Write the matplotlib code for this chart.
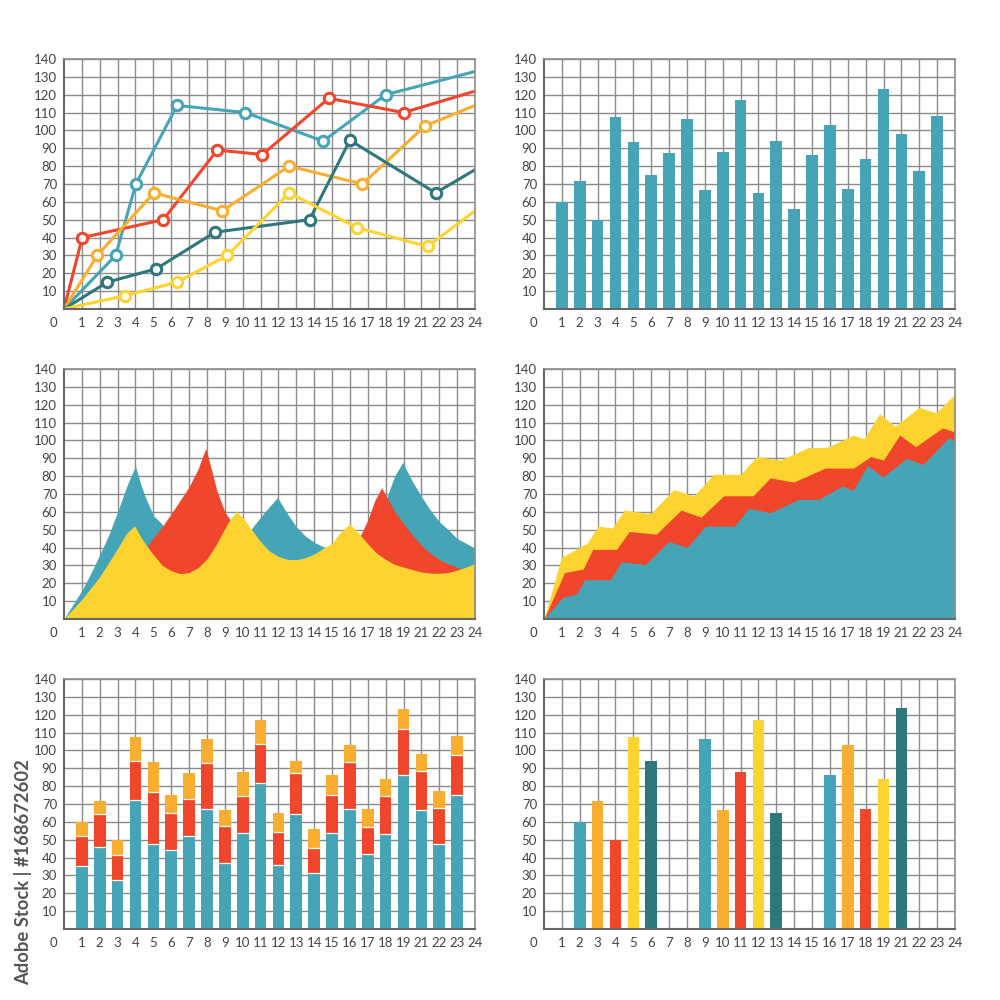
#!/usr/bin/env python3

import matplotlib
matplotlib.use('Agg')
import matplotlib.pyplot as plt

matplotlib.rcParams['font.family'] = 'Lato'
matplotlib.rcParams['font.size'] = 9.5

TEAL = '#45A5B6'
RED = '#F0462C'
ORANGE = '#F9AE30'
YELLOW = '#FDD42F'
DARK = '#2E777C'
GRID = '#8C8C8C'
TEXT = '#444444'

# x axis has 23 cells, the labels skip 20
x_labels = [1, 2, 3, 4, 5, 6, 7, 8, 9, 10, 11, 12, 13, 14, 15, 16, 17, 18, 19, 21, 22, 23, 24]
y_labels = [10, 20, 30, 40, 50, 60, 70, 80, 90, 100, 110, 120, 130, 140]

# line chart
teal_line_x = [0, 2.89, 4.02, 6.33, 10.15, 14.5, 18, 23]
teal_line_y = [0, 30, 70, 114, 110, 94, 120, 133]
red_line_x = [0, 1.02, 5.55, 8.58, 11.1, 14.82, 19, 23]
red_line_y = [0, 40, 50, 89, 86.5, 118, 110, 122]
orange_line_x = [0, 1.86, 5.03, 8.86, 12.6, 16.7, 20.2, 23]
orange_line_y = [0, 30, 65, 55, 80, 70, 102.5, 114]
dark_line_x = [0, 2.42, 5.16, 8.45, 13.74, 16.0, 20.8, 23]
dark_line_y = [0, 15, 22.5, 43, 50, 94.5, 65, 78]
yellow_line_x = [0, 3.43, 6.33, 9.14, 12.6, 16.42, 20.35, 23]
yellow_line_y = [0, 7.5, 15, 30, 65, 45.5, 35, 55]

# single bars
bar_pos = list(range(1, 23))
bar_vals = [60, 71.5, 50, 107.5, 93.5, 75, 87.5, 106.5, 66.5, 88, 117,
            65, 94, 56, 86, 103, 67, 84, 123, 98, 77.5, 108]

# peaks area chart
peak_teal_x = [0, 0.5, 1, 1.5, 2, 2.5, 3, 3.5, 3.75, 4, 4.25, 4.5, 5, 5.5, 6, 7, 8, 9, 10, 10.45, 11, 11.5, 11.95, 12.5, 13, 13.5, 14, 14.5, 14.8, 15, 16, 17, 17.5, 18.1, 18.5, 18.95, 19.5, 20, 20.5, 21, 21.5, 22, 22.5, 23]
peak_teal_y = [0, 8, 16, 25.5, 36, 47, 60, 74, 80, 85.6, 77, 69.5, 58, 53, 47, 37, 33, 38, 44, 50, 57, 63, 68, 59, 51.7, 46.5, 43, 40.5, 40, 39, 36, 40, 50, 69, 80, 87.7, 77, 68.6, 61, 54.5, 50, 45, 42.4, 39.6]
peak_red_x = [0, 2, 3, 4, 4.66, 5.56, 6, 7, 7.5, 7.93, 8.27, 8.55, 9, 9.33, 10, 11, 12, 13, 14, 15, 16, 16.6, 17, 17.4, 17.78, 18.1, 18.5, 19, 19.5, 20, 20.5, 21, 21.5, 22, 22.3, 23]
peak_red_y = [0, 18, 27, 33, 41, 52.6, 59, 74, 84, 95.5, 83, 72, 60, 55, 44, 34, 30, 30, 33, 38, 42, 47, 55.4, 66.6, 73.5, 67.6, 60.4, 53.5, 47, 41.4, 36.8, 33.4, 30.8, 29, 28, 25]
peak_yellow_x = [0, 1, 2, 3, 3.5, 3.95, 4.35, 4.66, 5, 5.5, 6, 6.5, 7, 7.5, 8, 8.5, 9, 9.3, 9.65, 10, 10.5, 11, 11.5, 12, 12.5, 13, 13.5, 14, 14.5, 15, 15.5, 16, 16.5, 17, 17.5, 18, 18.5, 19, 20, 20.5, 21, 21.5, 22, 22.5, 23]
peak_yellow_y = [0, 11, 23.7, 39.5, 48, 52.2, 45, 40.5, 36, 30, 27, 25.4, 26, 28.7, 33.6, 41.4, 50.7, 56, 60.4, 57, 50, 43.3, 38, 35, 33.4, 33.2, 34.3, 36.4, 39.5, 42.4, 49, 53.2, 48, 42, 36.8, 33.4, 30.6, 29, 26.3, 25.7, 25.6, 26, 27.4, 29, 31.2]

# stacked area chart
stack_teal_x = [0, 1.02, 1.82, 2.27, 3.72, 4.32, 5.68, 6.98, 8.0, 9.03, 10.65, 11.45, 12.66, 14.25, 15.36, 16.7, 17.3, 18.1, 18.96, 20.3, 21.2, 22.63, 23]
stack_teal_y = [0, 12, 14, 22, 22, 32, 30.5, 43.5, 40, 52, 52, 62, 59.5, 67, 67, 74.5, 72, 86, 79.5, 90, 86.5, 101.5, 99.5]
stack_red_x = [0, 1.15, 2.2, 2.72, 4.06, 4.77, 6.28, 7.67, 8.79, 10.06, 11.7, 12.66, 13.97, 15.74, 17.32, 18.29, 19, 19.9, 20.8, 22.3, 23]
stack_red_y = [0, 26, 28, 39, 39, 49, 47.5, 61, 57, 69, 69, 79, 76.7, 84.5, 84.5, 91, 89, 103, 96.5, 107, 104.7]
stack_yellow_x = [0, 0.97, 2.42, 3.02, 3.82, 4.5, 5.96, 7.26, 8.38, 9.5, 11, 11.9, 13.2, 14.8, 15.83, 17.3, 17.9, 18.77, 19.65, 21, 21.94, 23]
stack_yellow_y = [0, 34.5, 42.5, 52, 51, 61, 59, 72.5, 69, 81, 81, 91, 89, 96, 96, 103, 101, 115, 108, 118.5, 115.5, 126]

# stacked bars, tops of each segment
seg_teal = [35.5, 46, 27.5, 72.5, 47.5, 44, 52, 67, 37, 54, 82, 36, 64.5, 31.5, 53.5, 67, 42, 53, 86, 66.5, 47.5, 75]
seg_red = [52, 64.5, 41.5, 94, 77, 65, 73, 93, 57.5, 74.5, 103.5, 54.5, 87.5, 45.5, 75, 93.5, 57, 74.5, 112, 88.5, 68, 97.5]
seg_orange = bar_vals

# colored bars
color_pos = [2, 3, 4, 5, 6, 9, 10, 11, 12, 13, 16, 17, 18, 19, 20]
color_vals = [60, 71.5, 50, 107.5, 94, 106.5, 66.5, 88, 117, 65, 86, 103, 67, 84, 123.5]
color_list = [TEAL, ORANGE, RED, YELLOW, DARK] * 3


def make_axes(fig, left, top):
    # pixel box of every panel is 411 x 250 on the 1000 px canvas
    ax = fig.add_axes([left / 1000, 1 - (top + 250) / 1000, 411 / 1000, 250 / 1000])
    ax.set_xlim(0, 23)
    ax.set_ylim(0, 140)
    ax.set_xticks(range(1, 24))
    ax.set_xticklabels(x_labels)
    ax.set_yticks(y_labels)
    ax.grid(True, color=GRID, lw=1.0)
    ax.set_axisbelow(True)
    ax.tick_params(length=0, colors=TEXT, labelsize=9.5, pad=5)
    ax.tick_params(axis='x', pad=6)
    for s in ax.spines.values():
        s.set_color(GRID)
        s.set_linewidth(1.2)
    ax.spines['left'].set_color('#666666')
    ax.spines['bottom'].set_color('#666666')
    ax.spines['left'].set_linewidth(1.5)
    ax.spines['bottom'].set_linewidth(1.5)
    ax.annotate('0', xy=(0, 0), xytext=(-5, -6), textcoords='offset points',
                ha='right', va='top', color=TEXT, fontsize=9.5)
    return ax


def draw_line(ax, xs, ys, color):
    ax.plot(xs, ys, color=color, lw=2.2, marker='o', ms=7.5, mew=2.2, mfc='white',
            mec=color, markevery=list(range(1, len(xs) - 1)), clip_on=True)


fig = plt.figure(figsize=(10, 10), dpi=100)

ax = make_axes(fig, 64, 59)
draw_line(ax, teal_line_x, teal_line_y, TEAL)
draw_line(ax, red_line_x, red_line_y, RED)
draw_line(ax, orange_line_x, orange_line_y, ORANGE)
draw_line(ax, dark_line_x, dark_line_y, DARK)
draw_line(ax, yellow_line_x, yellow_line_y, YELLOW)

ax = make_axes(fig, 544, 59)
ax.bar(bar_pos, bar_vals, width=0.65, color=TEAL)

ax = make_axes(fig, 64, 369)
ax.fill_between(peak_teal_x, peak_teal_y, color=TEAL, lw=0)
ax.fill_between(peak_red_x, peak_red_y, color=RED, lw=0)
ax.fill_between(peak_yellow_x, peak_yellow_y, color=YELLOW, lw=0)

ax = make_axes(fig, 544, 369)
ax.fill_between(stack_yellow_x, stack_yellow_y, color=YELLOW, lw=0)
ax.fill_between(stack_red_x, stack_red_y, color=RED, lw=0)
ax.fill_between(stack_teal_x, stack_teal_y, color=TEAL, lw=0)

ax = make_axes(fig, 64, 679)
ax.bar(bar_pos, seg_teal, width=0.65, color=TEAL)
red_heights = [r - t for r, t in zip(seg_red, seg_teal)]
orange_heights = [o - r for o, r in zip(seg_orange, seg_red)]
ax.bar(bar_pos, red_heights, bottom=seg_teal, width=0.65, color=RED)
ax.bar(bar_pos, orange_heights, bottom=seg_red, width=0.65, color=ORANGE)
# thin white gaps between the segments
ax.hlines(seg_teal, [p - 0.325 for p in bar_pos], [p + 0.325 for p in bar_pos], color='white', lw=0.9)
ax.hlines(seg_red, [p - 0.325 for p in bar_pos], [p + 0.325 for p in bar_pos], color='white', lw=0.9)

ax = make_axes(fig, 544, 679)
ax.bar(color_pos, color_vals, width=0.65, color=color_list)

fig.text(0.023, 0.015, 'Adobe Stock | #168672602', rotation=90, ha='center', va='bottom',
         color='#555555', fontsize=13.2, fontweight='bold')

fig.savefig('out.png', dpi=100, facecolor='white')
